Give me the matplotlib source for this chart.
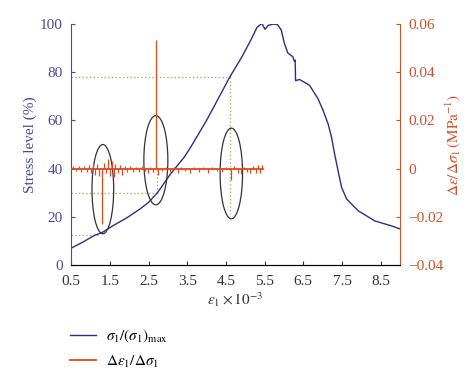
import matplotlib
matplotlib.use('Agg')
import matplotlib.pyplot as plt
from matplotlib.patches import Ellipse

# stress curve, sigma1/(sigma1)max in %
strain = [0.50, 0.80, 1.10, 1.30, 1.60, 1.95, 2.30, 2.50, 2.73, 3.07, 3.42, 3.59,
          4.00, 4.30, 4.60, 4.90, 5.15, 5.30, 5.43, 5.51, 5.60, 5.75, 5.84, 5.93,
          6.01, 6.10, 6.23, 6.27, 6.29, 6.30, 6.40, 6.66, 6.88, 7.01, 7.14, 7.23,
          7.31, 7.40, 7.49, 7.62, 7.92, 8.35, 8.79, 9.00]
stress = [7.0, 9.5, 12.3, 13.5, 16.5, 19.7, 23.5, 26.0, 30.0, 37.8, 44.7, 48.9,
          60.0, 69.0, 78.0, 86.0, 93.5, 98.5, 100.3, 97.8, 99.5, 100.0, 99.6, 97.5,
          92.0, 88.0, 86.4, 84.5, 85.0, 76.5, 77.0, 74.6, 69.0, 64.2, 58.6, 53.0,
          46.0, 39.0, 32.2, 27.4, 22.5, 18.3, 16.2, 15.0]

# strain increment / stress increment: baseline span and the jumps on it
red_span = [0.50, 5.46]
red_x = [0.55, 0.62, 0.70, 0.76, 0.83, 0.90, 0.96, 1.02, 1.07, 1.12, 1.18, 1.23,
         1.30, 1.36, 1.41, 1.46, 1.50, 1.55, 1.60, 1.64, 1.70, 1.76, 1.82, 1.88,
         1.95, 2.02, 2.10, 2.18, 2.26, 2.34, 2.42, 2.48, 2.55, 2.62, 2.70, 2.74,
         2.85, 2.95, 3.05, 3.15, 3.25, 3.35, 3.45, 3.58, 3.68, 3.80, 3.92, 4.05,
         4.15, 4.28, 4.40, 4.50, 4.63, 4.72, 4.80, 4.88, 4.96, 5.05, 5.12, 5.20,
         5.27, 5.33, 5.39, 5.44]
red_y = [0.0010, -0.0008, 0.0012, -0.0015, 0.0010, -0.0012, 0.0015, -0.0020, 0.0018, -0.0025, 0.0020, -0.0030,
         -0.0229, 0.0025, -0.0020, 0.0040, -0.0030, 0.0030, -0.0035, 0.0020, -0.0020, 0.0015, -0.0025, 0.0012,
         -0.0015, 0.0010, -0.0012, 0.0008, -0.0015, 0.0010, -0.0010, -0.0020, 0.0008, -0.0012, 0.0533, -0.0025,
         -0.0010, 0.0008, -0.0015, 0.0006, -0.0018, 0.0008, -0.0010, -0.0020, 0.0008, -0.0012, 0.0006, -0.0016,
         0.0008, -0.0010, -0.0014, 0.0008, -0.0046, 0.0012, -0.0018, -0.0022, 0.0008, -0.0015, -0.0020, 0.0010,
         -0.0016, 0.0015, -0.0020, 0.0015]

# marked points (strain, stress level)
marks_x = [1.25, 2.73, 4.61]
marks_y = [12.3, 30.0, 78.0]

# ellipses: centre strain, centre stress, width, height
ell_cx = [1.32, 2.69, 4.64]
ell_cy = [31.5, 43.5, 38.0]
ell_w = [0.56, 0.62, 0.58]
ell_h = [37.0, 37.0, 37.6]

blue = '#2f2d86'
blue_ax = '#4b4a9c'
red = '#dd4a1e'
red_ax = '#c9542c'
dot_col = '#a9b266'

plt.rcParams['font.family'] = ['Liberation Serif', 'DejaVu Serif']
plt.rcParams['mathtext.fontset'] = 'stix'

fig = plt.figure(figsize=(4.74, 3.87), dpi=100)
ax = fig.add_axes([0.150, 0.315, 0.694, 0.623])
ax2 = ax.twinx()

# dotted guide lines
ax.plot([0.5, marks_x[0]], [marks_y[0], marks_y[0]], ls=':', color=dot_col, lw=1)
ax.plot([0.5, marks_x[1]], [marks_y[1], marks_y[1]], ls=':', color=dot_col, lw=1)
ax.plot([marks_x[1], marks_x[1]], [marks_y[1], 40], ls=':', color=dot_col, lw=1)
ax.plot([0.5, marks_x[2]], [marks_y[2], marks_y[2]], ls=':', color=dot_col, lw=1)
ax.plot([marks_x[2], marks_x[2]], [marks_y[2], 21], ls=':', color=dot_col, lw=1)

l1, = ax.plot(strain, stress, color=blue, lw=1.0, label=r'$\sigma_1/(\sigma_1)_{\max}$')
l2, = ax2.plot(red_span, [0, 0], color=red, lw=1.3, label=r'$\Delta\varepsilon_1/\Delta\sigma_1$')
ax2.vlines(red_x, 0, red_y, color=red, lw=0.9)

for cx, cy, w, h in zip(ell_cx, ell_cy, ell_w, ell_h):
    e = Ellipse((cx, cy), w, h, transform=ax.transData, fill=False,
                edgecolor='#333333', lw=0.9)
    ax2.add_patch(e)

ax.set_xlim(0.5, 9.0)
ax.set_ylim(0, 100)
ax2.set_ylim(-0.04, 0.06)
ax.set_xticks([0.5, 1.5, 2.5, 3.5, 4.5, 5.5, 6.5, 7.5, 8.5])
ax.set_xticklabels(['0.5', '1.5', '2.5', '3.5', '4.5', '5.5', '6.5', '7.5', '8.5'])
ax.set_yticks([0, 20, 40, 60, 80, 100])
ax2.set_yticks([-0.04, -0.02, 0, 0.02, 0.04, 0.06])
ax2.set_yticklabels(['\u22120.04', '\u22120.02', '0', '0.02', '0.04', '0.06'])

for a in (ax, ax2):
    a.spines['top'].set_visible(False)
ax.spines['right'].set_visible(False)
ax.spines['left'].set_color(blue_ax)
ax2.spines['left'].set_visible(False)
ax2.spines['right'].set_color(red_ax)
ax.spines['bottom'].set_color('#333333')

ax.tick_params(axis='y', direction='in', length=3, colors=blue_ax, labelsize=11, pad=6)
ax.tick_params(axis='x', direction='in', length=3, color='#333333', labelcolor='#333333', labelsize=11, pad=7)
ax2.tick_params(axis='y', direction='in', length=3, colors=red_ax, labelsize=11, pad=6)

ax.set_ylabel('Stress level (%)', color=blue_ax, fontsize=11, labelpad=2)
ax2.set_ylabel(r'$\Delta\varepsilon/\Delta\sigma_1\,(\mathrm{MPa}^{-1})$', color=red_ax, fontsize=11, labelpad=0)
ax.set_xlabel(r'$\varepsilon_1\times10^{-3}$', color='#333333', fontsize=11, labelpad=2)

fig.legend([l1, l2], [l1.get_label(), l2.get_label()], loc='upper left',
           bbox_to_anchor=(0.118, 0.19), frameon=False, fontsize=11,
           handlelength=1.7, handletextpad=0.7, labelspacing=0.6)

fig.savefig('out.png', dpi=100)
